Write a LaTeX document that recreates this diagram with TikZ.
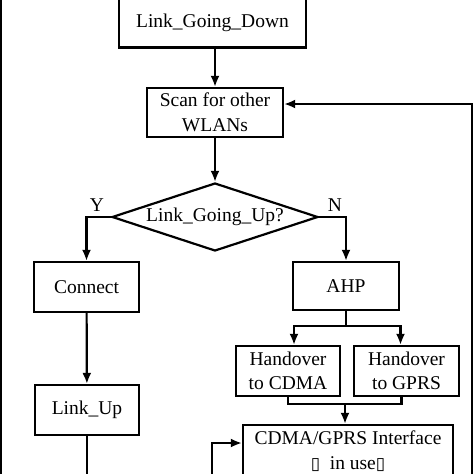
\documentclass[tikz,border=0pt]{standalone}
\usepackage{fontspec}
\setmainfont{Liberation Serif}
\newfontfamily\symfont{DejaVu Sans}
\usetikzlibrary{arrows.meta, shapes.geometric}

\begin{document}
\begin{tikzpicture}[x=1pt, y=-1pt, >={Latex[length=11pt,width=9pt]}, line width=2.2pt,
  font=\fontsize{19.5}{24.5}\selectfont,
  blk/.style={draw, align=center, inner sep=0pt},
  ask/.style={draw, diamond, aspect=3, inner sep=0pt, minimum width=206pt, minimum height=68pt}]

\useasboundingbox (0,0) rectangle (474,474);
\clip (0,0) rectangle (474,474);

% boxes
\node[blk, minimum width=187pt, minimum height=49pt] (down) at (212.5,23) {Link\_Going\_Down};
\node[blk, minimum width=136pt, minimum height=49pt] (scan) at (215,112.5) {Scan for other\\WLANs};
\node[ask] (up) at (215,217) {Link\_Going\_Up?};
\node[blk, minimum width=105pt, minimum height=50pt] (connect) at (86.5,287) {Connect};
\node[blk, minimum width=106pt, minimum height=48pt] (ahp) at (346,286) {AHP};
\node[blk, minimum width=104pt, minimum height=50pt] (linkup) at (87,410) {Link\_Up};
\node[blk, minimum width=104pt, minimum height=50pt] (hcdma) at (288,371) {Handover\\to CDMA};
\node[blk, minimum width=105pt, minimum height=50pt] (hgprs) at (406.5,371) {Handover\\to GPRS};
\node[blk, minimum width=210pt, minimum height=52pt] (iface) at (348,451) {CDMA/GPRS Interface\\{\symfont\fontsize{17}{17}\selectfont ▯}\ \ in use{\symfont\fontsize{17}{17}\selectfont ▯}};

% labels
\node (yes) at (97,205) {Y};
\node (no) at (335,205) {N};

% free ends
\coordinate (lbot) at (212,480);
\coordinate (rbot) at (472,480);
\coordinate (join) at (345,403);

% connectors
\draw[->] (scan.north |- down.south) -- (scan.north);
\draw[->] (scan) -- (up);
\draw[->] (up.west) -| (connect.north);
\draw[->] (up.east) -| (ahp.north);
\draw[->] (connect) -- (linkup);
\draw (linkup.south) -- ++(0,50);
\draw[->] (ahp.south) -- ++(0,15) -| ([xshift=6pt]hcdma.north);
\draw[->] (ahp.south) -- ++(0,15) -| ([xshift=-6pt]hgprs.north);
\draw (hcdma.south) -- ++(0,7) -| ([xshift=-5pt]hgprs.south);
\draw[->] (join) -- (join |- iface.north);
\draw[->] (lbot) |- ([yshift=8pt]iface.west);
\draw[->] (rbot) |- ([yshift=8.5pt]scan.east);

\draw (1,-5) -- (1,480);

\end{tikzpicture}
\end{document}
